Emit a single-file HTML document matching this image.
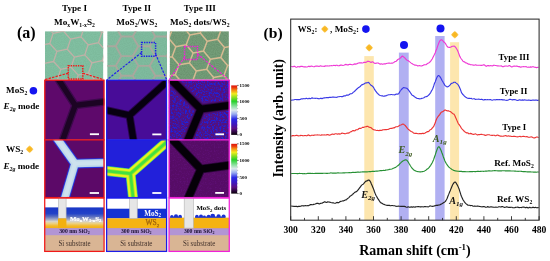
<!DOCTYPE html><html><head><meta charset="utf-8"><title>Raman figure</title>
<style>html,body{margin:0;padding:0;background:#fff}svg{display:block}</style></head><body>
<svg width="550" height="261" viewBox="0 0 550 261">
<rect width="550" height="261" fill="#fff"/>
<defs>
<linearGradient id="cbar" x1="0" y1="0" x2="0" y2="1">
<stop offset="0" stop-color="#dc140c"/><stop offset="0.05" stop-color="#ec3c0c"/><stop offset="0.10" stop-color="#f49014"/><stop offset="0.17" stop-color="#f0ec20"/>
<stop offset="0.24" stop-color="#90e020"/><stop offset="0.32" stop-color="#24d028"/><stop offset="0.42" stop-color="#88e09c"/><stop offset="0.50" stop-color="#dce8ec"/>
<stop offset="0.58" stop-color="#98acf0"/><stop offset="0.68" stop-color="#2828e6"/><stop offset="0.78" stop-color="#3c18c0"/><stop offset="0.87" stop-color="#5c1084"/>
<stop offset="1" stop-color="#080008"/></linearGradient>
<linearGradient id="alloy" x1="0" y1="0" x2="0" y2="1">
<stop offset="0" stop-color="#1a36c6"/><stop offset="0.3" stop-color="#2242c8"/><stop offset="0.45" stop-color="#5c70c0"/><stop offset="0.58" stop-color="#a0a8c8"/>
<stop offset="0.68" stop-color="#d8d4c8"/><stop offset="0.78" stop-color="#ecd080"/><stop offset="0.9" stop-color="#f2b828"/><stop offset="1" stop-color="#f2b018"/></linearGradient>
<radialGradient id="dia"><stop offset="0" stop-color="#f8b418"/><stop offset="0.6" stop-color="#f9bc30"/><stop offset="1" stop-color="#fce4a8"/></radialGradient>
<filter id="speck" x="0" y="0" width="100%" height="100%" color-interpolation-filters="sRGB"><feTurbulence type="fractalNoise" baseFrequency="0.55" numOctaves="2" seed="3" result="n"/>
<feColorMatrix in="n" type="matrix" values="0 0 0 0 0.12  0 0 0 0 0.13  0 0 0 0 0.86  4.0 0 0 0 -1.8"/></filter>
<filter id="speck2" x="0" y="0" width="100%" height="100%" color-interpolation-filters="sRGB"><feTurbulence type="fractalNoise" baseFrequency="0.7" numOctaves="2" seed="8" result="n"/>
<feColorMatrix in="n" type="matrix" values="0 0 0 0 0.45  0 0 0 0 0.1  0 0 0 0 0.6  2.0 0 0 0 -0.95"/></filter>
<filter id="grain" x="0" y="0" width="100%" height="100%" color-interpolation-filters="sRGB"><feTurbulence type="fractalNoise" baseFrequency="0.9" numOctaves="1" seed="5"/>
<feColorMatrix type="matrix" values="0 0 0 0 0.2  0 0 0 0 0.3  0 0 0 0 0.2  0.9 0 0 0 -0.35"/></filter>
<filter id="soft"><feGaussianBlur stdDeviation="0.35"/></filter>

<clipPath id="oc0"><rect x="44.9" y="31.2" width="58.5" height="48.6"/></clipPath>
<clipPath id="oc1"><rect x="107.2" y="31.2" width="59.8" height="48.6"/></clipPath>
<clipPath id="oc2"><rect x="169.6" y="31.2" width="59.3" height="48.6"/></clipPath>
<clipPath id="m1c0"><rect x="44.6" y="80" width="59.6" height="59.8"/></clipPath>
<clipPath id="m2c0"><rect x="44.6" y="139.8" width="59.6" height="57.8"/></clipPath>
<clipPath id="m1c1"><rect x="106.5" y="80" width="60.2" height="59.8"/></clipPath>
<clipPath id="m2c1"><rect x="106.5" y="139.8" width="60.2" height="57.8"/></clipPath>
<clipPath id="m1c2"><rect x="168.9" y="80" width="60.5" height="59.8"/></clipPath>
<clipPath id="m2c2"><rect x="168.9" y="139.8" width="60.5" height="57.8"/></clipPath>
</defs>
<text x="74.50" y="11.00" font-family="Liberation Serif, serif" font-size="9.20" font-weight="bold" font-style="normal" text-anchor="middle" fill="#000" >Type I</text>
<text x="136.80" y="11.00" font-family="Liberation Serif, serif" font-size="9.20" font-weight="bold" font-style="normal" text-anchor="middle" fill="#000" >Type II</text>
<text x="199.80" y="11.00" font-family="Liberation Serif, serif" font-size="9.20" font-weight="bold" font-style="normal" text-anchor="middle" fill="#000" >Type III</text>
<text x="74.50" y="25.30" font-family="Liberation Serif, serif" font-size="9.20" font-weight="bold" font-style="normal" text-anchor="middle" fill="#000" >Mo<tspan font-size="5.70" dy="1.84">x</tspan><tspan dy="-1.84">​</tspan>W<tspan font-size="5.70" dy="1.84">1-x</tspan><tspan dy="-1.84">​</tspan>S<tspan font-size="5.70" dy="1.84">2</tspan><tspan dy="-1.84">​</tspan></text>
<text x="136.80" y="25.30" font-family="Liberation Serif, serif" font-size="9.20" font-weight="bold" font-style="normal" text-anchor="middle" fill="#000" >MoS<tspan font-size="5.70" dy="1.84">2</tspan><tspan dy="-1.84">​</tspan>/WS<tspan font-size="5.70" dy="1.84">2</tspan><tspan dy="-1.84">​</tspan></text>
<text x="199.80" y="25.30" font-family="Liberation Serif, serif" font-size="9.20" font-weight="bold" font-style="normal" text-anchor="middle" fill="#000" >MoS<tspan font-size="5.70" dy="1.84">2</tspan><tspan dy="-1.84">​</tspan> dots/WS<tspan font-size="5.70" dy="1.84">2</tspan><tspan dy="-1.84">​</tspan></text>
<text x="16.90" y="38.10" font-family="Liberation Serif, serif" font-size="16.00" font-weight="bold" font-style="normal" text-anchor="start" fill="#000" >(a)</text>
<text x="263.60" y="38.00" font-family="Liberation Serif, serif" font-size="15.60" font-weight="bold" font-style="normal" text-anchor="start" fill="#000" >(b)</text>
<g clip-path="url(#oc0)">
<rect x="44.9" y="31.2" width="58.5" height="48.6" fill="#80bfa1"/>
<rect x="44.9" y="31.2" width="58.5" height="48.6" filter="url(#grain)" opacity="0.15"/>
<path d="M16.4 116.5L6.0 118.7M6.0 118.7L-1.1 110.8M-1.1 110.8L2.2 100.7M18.6 50.1L8.2 52.4M8.2 52.4L1.1 44.5M1.1 44.5L4.4 34.4M22.5 68.1L12.1 70.4M12.1 70.4L5.0 62.5M5.0 62.5L8.2 52.4M26.3 86.1L15.9 88.4M15.9 88.4L8.8 80.5M8.8 80.5L12.1 70.4M30.1 104.1L19.7 106.4M19.7 106.4L12.6 98.5M12.6 98.5L15.9 88.4M33.9 122.1L23.5 124.3M23.5 124.3L16.4 116.5M16.4 116.5L19.7 106.4M28.5 19.8L18.1 22.0M18.1 22.0L11.0 14.2M11.0 14.2L14.3 4.0M32.3 37.8L21.9 40.0M21.9 40.0L14.8 32.2M14.8 32.2L18.1 22.0M36.1 55.8L25.7 58.0M25.7 58.0L18.6 50.1M18.6 50.1L21.9 40.0M40.0 73.8L29.6 76.0M29.6 76.0L22.5 68.1M22.5 68.1L25.7 58.0M43.8 91.8L33.4 94.0M33.4 94.0L26.3 86.1M26.3 86.1L29.6 76.0M47.6 109.8L37.2 112.0M37.2 112.0L30.1 104.1M30.1 104.1L33.4 94.0M42.2 7.5L31.8 9.7M31.8 9.7L24.7 1.8M24.7 1.8L27.9 -8.3M46.0 25.5L35.6 27.7M35.6 27.7L28.5 19.8M28.5 19.8L31.8 9.7M49.8 43.5L39.4 45.7M39.4 45.7L32.3 37.8M32.3 37.8L35.6 27.7M53.6 61.5L43.2 63.7M43.2 63.7L36.1 55.8M36.1 55.8L39.4 45.7M57.5 79.5L47.1 81.7M47.1 81.7L40.0 73.8M40.0 73.8L43.2 63.7M61.3 97.5L50.9 99.7M50.9 99.7L43.8 91.8M43.8 91.8L47.1 81.7M65.1 115.5L54.7 117.7M54.7 117.7L47.6 109.8M47.6 109.8L50.9 99.7M59.7 13.2L49.3 15.4M49.3 15.4L42.2 7.5M42.2 7.5L45.4 -2.6M63.5 31.2L53.1 33.4M53.1 33.4L46.0 25.5M46.0 25.5L49.3 15.4M67.3 49.2L56.9 51.4M56.9 51.4L49.8 43.5M49.8 43.5L53.1 33.4M71.1 67.2L60.7 69.4M60.7 69.4L53.6 61.5M53.6 61.5L56.9 51.4M75.0 85.2L64.6 87.4M64.6 87.4L57.5 79.5M57.5 79.5L60.7 69.4M78.8 103.2L68.4 105.4M68.4 105.4L61.3 97.5M61.3 97.5L64.6 87.4M82.6 121.2L72.2 123.4M72.2 123.4L65.1 115.5M65.1 115.5L68.4 105.4M77.2 18.9L66.8 21.1M66.8 21.1L59.7 13.2M59.7 13.2L62.9 3.1M81.0 36.9L70.6 39.1M70.6 39.1L63.5 31.2M63.5 31.2L66.8 21.1M84.8 54.9L74.4 57.1M74.4 57.1L67.3 49.2M67.3 49.2L70.6 39.1M88.6 72.9L78.2 75.1M78.2 75.1L71.1 67.2M71.1 67.2L74.4 57.1M92.5 90.9L82.1 93.1M82.1 93.1L75.0 85.2M75.0 85.2L78.2 75.1M96.3 108.9L85.9 111.1M85.9 111.1L78.8 103.2M78.8 103.2L82.1 93.1M90.8 6.6L80.4 8.8M80.4 8.8L73.3 0.9M73.3 0.9L76.6 -9.2M94.7 24.6L84.3 26.8M84.3 26.8L77.2 18.9M77.2 18.9L80.4 8.8M98.5 42.6L88.1 44.8M88.1 44.8L81.0 36.9M81.0 36.9L84.3 26.8M102.3 60.6L91.9 62.8M91.9 62.8L84.8 54.9M84.8 54.9L88.1 44.8M106.1 78.6L95.7 80.8M95.7 80.8L88.6 72.9M88.6 72.9L91.9 62.8M110.0 96.6L99.6 98.8M99.6 98.8L92.5 90.9M92.5 90.9L95.7 80.8M113.8 114.6L103.4 116.8M103.4 116.8L96.3 108.9M96.3 108.9L99.6 98.8M108.3 12.3L97.9 14.5M97.9 14.5L90.8 6.6M90.8 6.6L94.1 -3.5M112.2 30.3L101.8 32.5M101.8 32.5L94.7 24.6M94.7 24.6L97.9 14.5M116.0 48.3L105.6 50.5M105.6 50.5L98.5 42.6M98.5 42.6L101.8 32.5M119.8 66.3L109.4 68.5M109.4 68.5L102.3 60.6M102.3 60.6L105.6 50.5M123.6 84.3L113.2 86.5M113.2 86.5L106.1 78.6M106.1 78.6L109.4 68.5M127.5 102.3L117.1 104.5M117.1 104.5L110.0 96.6M110.0 96.6L113.2 86.5M131.3 120.3L120.9 122.5M120.9 122.5L113.8 114.6M113.8 114.6L117.1 104.5M125.8 18.0L115.4 20.2M115.4 20.2L108.3 12.3M108.3 12.3L111.6 2.2M129.7 36.0L119.3 38.2M119.3 38.2L112.2 30.3M112.2 30.3L115.4 20.2M133.5 54.0L123.1 56.2M123.1 56.2L116.0 48.3M116.0 48.3L119.3 38.2M137.3 72.0L126.9 74.2M126.9 74.2L119.8 66.3M119.8 66.3L123.1 56.2M141.1 90.0L130.7 92.2M130.7 92.2L123.6 84.3M123.6 84.3L126.9 74.2M145.0 107.9L134.6 110.2M134.6 110.2L127.5 102.3M127.5 102.3L130.7 92.2M139.5 5.6L129.1 7.9M129.1 7.9L122.0 -0.0M122.0 -0.0L125.3 -10.1M143.3 23.6L132.9 25.9M132.9 25.9L125.8 18.0M125.8 18.0L129.1 7.9M147.2 41.6L136.8 43.9M136.8 43.9L129.7 36.0M129.7 36.0L132.9 25.9" stroke="#cdaea8" stroke-width="1.3" fill="none" stroke-linecap="round" stroke-opacity="0.85" filter="url(#soft)"/>
</g>
<g clip-path="url(#oc1)">
<rect x="107.2" y="31.2" width="59.8" height="48.6" fill="#7ebb9e"/>
<rect x="107.2" y="31.2" width="59.8" height="48.6" filter="url(#grain)" opacity="0.15"/>
<path d="M87.4 114.9L81.7 124.7M81.7 124.7L70.4 124.7M70.4 124.7L64.8 114.9M87.4 95.3L81.7 105.1M81.7 105.1L70.4 105.1M70.4 105.1L64.8 95.3M104.4 105.1L98.7 114.9M98.7 114.9L87.4 114.9M87.4 114.9L81.7 105.1M121.3 114.9L115.7 124.7M115.7 124.7L104.4 124.7M104.4 124.7L98.7 114.9M87.4 75.7L81.7 85.5M81.7 85.5L70.4 85.5M70.4 85.5L64.8 75.7M104.4 85.5L98.7 95.3M98.7 95.3L87.4 95.3M87.4 95.3L81.7 85.5M121.3 95.3L115.7 105.1M115.7 105.1L104.4 105.1M104.4 105.1L98.7 95.3M138.3 105.1L132.7 114.9M132.7 114.9L121.3 114.9M121.3 114.9L115.7 105.1M155.3 114.9L149.6 124.7M149.6 124.7L138.3 124.7M138.3 124.7L132.7 114.9M87.4 56.1L81.7 65.9M81.7 65.9L70.4 65.9M70.4 65.9L64.8 56.1M104.4 65.9L98.7 75.7M98.7 75.7L87.4 75.7M87.4 75.7L81.7 65.9M121.3 75.7L115.7 85.5M115.7 85.5L104.4 85.5M104.4 85.5L98.7 75.7M138.3 85.5L132.7 95.3M132.7 95.3L121.3 95.3M121.3 95.3L115.7 85.5M155.3 95.3L149.6 105.1M149.6 105.1L138.3 105.1M138.3 105.1L132.7 95.3M172.3 105.1L166.6 114.9M166.6 114.9L155.3 114.9M155.3 114.9L149.6 105.1M189.2 114.9L183.6 124.7M183.6 124.7L172.3 124.7M172.3 124.7L166.6 114.9M87.4 36.5L81.7 46.3M81.7 46.3L70.4 46.3M70.4 46.3L64.8 36.5M104.4 46.3L98.7 56.1M98.7 56.1L87.4 56.1M87.4 56.1L81.7 46.3M121.3 56.1L115.7 65.9M115.7 65.9L104.4 65.9M104.4 65.9L98.7 56.1M138.3 65.9L132.7 75.7M132.7 75.7L121.3 75.7M121.3 75.7L115.7 65.9M155.3 75.7L149.6 85.5M149.6 85.5L138.3 85.5M138.3 85.5L132.7 75.7M172.3 85.5L166.6 95.3M166.6 95.3L155.3 95.3M155.3 95.3L149.6 85.5M189.2 95.3L183.6 105.1M183.6 105.1L172.3 105.1M172.3 105.1L166.6 95.3M206.2 105.1L200.6 114.9M200.6 114.9L189.2 114.9M189.2 114.9L183.6 105.1M87.4 16.9L81.7 26.7M81.7 26.7L70.4 26.7M70.4 26.7L64.8 16.9M104.4 26.7L98.7 36.5M98.7 36.5L87.4 36.5M87.4 36.5L81.7 26.7M121.3 36.5L115.7 46.3M115.7 46.3L104.4 46.3M104.4 46.3L98.7 36.5M138.3 46.3L132.7 56.1M132.7 56.1L121.3 56.1M121.3 56.1L115.7 46.3M155.3 56.1L149.6 65.9M149.6 65.9L138.3 65.9M138.3 65.9L132.7 56.1M172.3 65.9L166.6 75.7M166.6 75.7L155.3 75.7M155.3 75.7L149.6 65.9M189.2 75.7L183.6 85.5M183.6 85.5L172.3 85.5M172.3 85.5L166.6 75.7M206.2 85.5L200.6 95.3M200.6 95.3L189.2 95.3M189.2 95.3L183.6 85.5M87.4 -2.7L81.7 7.1M81.7 7.1L70.4 7.1M70.4 7.1L64.8 -2.7M104.4 7.1L98.7 16.9M98.7 16.9L87.4 16.9M87.4 16.9L81.7 7.1M121.3 16.9L115.7 26.7M115.7 26.7L104.4 26.7M104.4 26.7L98.7 16.9M138.3 26.7L132.7 36.5M132.7 36.5L121.3 36.5M121.3 36.5L115.7 26.7M155.3 36.5L149.6 46.3M149.6 46.3L138.3 46.3M138.3 46.3L132.7 36.5M172.3 46.3L166.6 56.1M166.6 56.1L155.3 56.1M155.3 56.1L149.6 46.3M189.2 56.1L183.6 65.9M183.6 65.9L172.3 65.9M172.3 65.9L166.6 56.1M206.2 65.9L200.6 75.7M200.6 75.7L189.2 75.7M189.2 75.7L183.6 65.9M121.3 -2.7L115.7 7.1M115.7 7.1L104.4 7.1M104.4 7.1L98.7 -2.7M138.3 7.1L132.7 16.9M132.7 16.9L121.3 16.9M121.3 16.9L115.7 7.1M155.3 16.9L149.6 26.7M149.6 26.7L138.3 26.7M138.3 26.7L132.7 16.9M172.3 26.7L166.6 36.5M166.6 36.5L155.3 36.5M155.3 36.5L149.6 26.7M189.2 36.5L183.6 46.3M183.6 46.3L172.3 46.3M172.3 46.3L166.6 36.5M206.2 46.3L200.6 56.1M200.6 56.1L189.2 56.1M189.2 56.1L183.6 46.3M155.3 -2.7L149.6 7.1M149.6 7.1L138.3 7.1M138.3 7.1L132.7 -2.7M172.3 7.1L166.6 16.9M166.6 16.9L155.3 16.9M155.3 16.9L149.6 7.1M189.2 16.9L183.6 26.7M183.6 26.7L172.3 26.7M172.3 26.7L166.6 16.9M206.2 26.7L200.6 36.5M200.6 36.5L189.2 36.5M189.2 36.5L183.6 26.7M189.2 -2.7L183.6 7.1M183.6 7.1L172.3 7.1M172.3 7.1L166.6 -2.7M206.2 7.1L200.6 16.9M200.6 16.9L189.2 16.9M189.2 16.9L183.6 7.1" stroke="#b0a49e" stroke-width="1.9" fill="none" stroke-linecap="round" stroke-opacity="0.85" filter="url(#soft)"/>
</g>
<g clip-path="url(#oc2)">
<rect x="169.6" y="31.2" width="59.3" height="48.6" fill="#739d78"/>
<rect x="169.6" y="31.2" width="59.3" height="48.6" filter="url(#grain)" opacity="0.42"/>
<path d="M140.8 62.2L130.3 64.1M130.3 64.1L123.5 55.9M123.5 55.9L127.1 45.9M144.0 80.3L133.5 82.2M133.5 82.2L126.7 74.0M126.7 74.0L130.3 64.1M147.1 98.4L136.7 100.3M136.7 100.3L129.9 92.2M129.9 92.2L133.5 82.2M150.3 116.6L139.9 118.4M139.9 118.4L133.1 110.3M133.1 110.3L136.7 100.3M148.5 14.1L138.0 16.0M138.0 16.0L131.2 7.8M131.2 7.8L134.8 -2.1M151.7 32.3L141.2 34.1M141.2 34.1L134.4 26.0M134.4 26.0L138.0 16.0M154.9 50.4L144.4 52.2M144.4 52.2L137.6 44.1M137.6 44.1L141.2 34.1M158.0 68.5L147.6 70.3M147.6 70.3L140.8 62.2M140.8 62.2L144.4 52.2M161.2 86.6L150.8 88.5M150.8 88.5L144.0 80.3M144.0 80.3L147.6 70.3M164.4 104.7L154.0 106.6M154.0 106.6L147.1 98.4M147.1 98.4L150.8 88.5M167.6 122.9L157.2 124.7M157.2 124.7L150.3 116.6M150.3 116.6L154.0 106.6M165.8 20.4L155.3 22.3M155.3 22.3L148.5 14.1M148.5 14.1L152.1 4.2M168.9 38.6L158.5 40.4M158.5 40.4L151.7 32.3M151.7 32.3L155.3 22.3M172.1 56.7L161.7 58.5M161.7 58.5L154.9 50.4M154.9 50.4L158.5 40.4M175.3 74.8L164.9 76.6M164.9 76.6L158.0 68.5M158.0 68.5L161.7 58.5M178.5 92.9L168.1 94.8M168.1 94.8L161.2 86.6M161.2 86.6L164.9 76.6M181.7 111.0L171.3 112.9M171.3 112.9L164.4 104.7M164.4 104.7L168.1 94.8M179.8 8.6L169.4 10.4M169.4 10.4L162.6 2.3M162.6 2.3L166.2 -7.7M183.0 26.7L172.6 28.6M172.6 28.6L165.8 20.4M165.8 20.4L169.4 10.4M186.2 44.8L175.8 46.7M175.8 46.7L168.9 38.6M168.9 38.6L172.6 28.6M189.4 63.0L179.0 64.8M179.0 64.8L172.1 56.7M172.1 56.7L175.8 46.7M192.6 81.1L182.2 82.9M182.2 82.9L175.3 74.8M175.3 74.8L179.0 64.8M195.8 99.2L185.4 101.1M185.4 101.1L178.5 92.9M178.5 92.9L182.2 82.9M199.0 117.3L188.6 119.2M188.6 119.2L181.7 111.0M181.7 111.0L185.4 101.1M197.1 14.9L186.7 16.7M186.7 16.7L179.8 8.6M179.8 8.6L183.5 -1.4M200.3 33.0L189.9 34.9M189.9 34.9L183.0 26.7M183.0 26.7L186.7 16.7M203.5 51.1L193.1 53.0M193.1 53.0L186.2 44.8M186.2 44.8L189.9 34.9M206.7 69.3L196.3 71.1M196.3 71.1L189.4 63.0M189.4 63.0L193.1 53.0M209.9 87.4L199.5 89.2M199.5 89.2L192.6 81.1M192.6 81.1L196.3 71.1M213.1 105.5L202.7 107.3M202.7 107.3L195.8 99.2M195.8 99.2L199.5 89.2M216.3 123.6L205.8 125.5M205.8 125.5L199.0 117.3M199.0 117.3L202.7 107.3M211.2 3.1L200.8 4.9M200.8 4.9L193.9 -3.2M193.9 -3.2L197.6 -13.2M214.4 21.2L204.0 23.0M204.0 23.0L197.1 14.9M197.1 14.9L200.8 4.9M217.6 39.3L207.2 41.2M207.2 41.2L200.3 33.0M200.3 33.0L204.0 23.0M220.8 57.4L210.4 59.3M210.4 59.3L203.5 51.1M203.5 51.1L207.2 41.2M224.0 75.6L213.6 77.4M213.6 77.4L206.7 69.3M206.7 69.3L210.4 59.3M227.2 93.7L216.7 95.5M216.7 95.5L209.9 87.4M209.9 87.4L213.6 77.4M230.4 111.8L219.9 113.6M219.9 113.6L213.1 105.5M213.1 105.5L216.7 95.5M228.5 9.4L218.1 11.2M218.1 11.2L211.2 3.1M211.2 3.1L214.9 -6.9M231.7 27.5L221.3 29.3M221.3 29.3L214.4 21.2M214.4 21.2L218.1 11.2M234.9 45.6L224.5 47.4M224.5 47.4L217.6 39.3M217.6 39.3L221.3 29.3M238.1 63.7L227.6 65.6M227.6 65.6L220.8 57.4M220.8 57.4L224.5 47.4M241.3 81.8L230.8 83.7M230.8 83.7L224.0 75.6M224.0 75.6L227.6 65.6M244.5 100.0L234.0 101.8M234.0 101.8L227.2 93.7M227.2 93.7L230.8 83.7M247.7 118.1L237.2 119.9M237.2 119.9L230.4 111.8M230.4 111.8L234.0 101.8M245.8 15.7L235.4 17.5M235.4 17.5L228.5 9.4M228.5 9.4L232.2 -0.6M249.0 33.8L238.5 35.6M238.5 35.6L231.7 27.5M231.7 27.5L235.4 17.5M252.2 51.9L241.7 53.7M241.7 53.7L234.9 45.6M234.9 45.6L238.5 35.6M255.4 70.0L244.9 71.9M244.9 71.9L238.1 63.7M238.1 63.7L241.7 53.7M258.6 88.1L248.1 90.0M248.1 90.0L241.3 81.8M241.3 81.8L244.9 71.9M261.8 106.3L251.3 108.1M251.3 108.1L244.5 100.0M244.5 100.0L248.1 90.0M265.0 124.4L254.5 126.2M254.5 126.2L247.7 118.1M247.7 118.1L251.3 108.1M259.9 3.8L249.4 5.7M249.4 5.7L242.6 -2.5M242.6 -2.5L246.3 -12.4M263.1 21.9L252.6 23.8M252.6 23.8L245.8 15.7M245.8 15.7L249.4 5.7M266.3 40.1L255.8 41.9M255.8 41.9L249.0 33.8M249.0 33.8L252.6 23.8M269.5 58.2L259.0 60.0M259.0 60.0L252.2 51.9M252.2 51.9L255.8 41.9" stroke="#e9c096" stroke-width="1.5" fill="none" stroke-linecap="round" stroke-opacity="0.85" filter="url(#soft)"/>
</g>
<rect x="68.3" y="65.8" width="14.5" height="13.2" fill="none" stroke="#f01c1c" stroke-width="1.5" stroke-dasharray="1.4 1.0"/>
<line x1="68.3" y1="73.2" x2="44.8" y2="79.6" stroke="#f01c1c" stroke-width="1.2" stroke-dasharray="2.4 1.2"/>
<line x1="82.8" y1="73.2" x2="103.6" y2="79.6" stroke="#f01c1c" stroke-width="1.2" stroke-dasharray="2.4 1.2"/>
<rect x="141.6" y="42.5" width="14.0" height="13.8" fill="none" stroke="#2020e8" stroke-width="1.5" stroke-dasharray="1.4 1.0"/>
<line x1="141.6" y1="52.5" x2="107.0" y2="79.8" stroke="#2020e8" stroke-width="1.2" stroke-dasharray="2.4 1.2"/>
<line x1="155.6" y1="54.0" x2="166.6" y2="79.6" stroke="#2020e8" stroke-width="1.2" stroke-dasharray="2.4 1.2"/>
<rect x="184.6" y="46.6" width="12.9" height="12.9" fill="none" stroke="#f020d8" stroke-width="1.5" stroke-dasharray="1.4 1.0"/>
<line x1="184.6" y1="57.0" x2="169.4" y2="79.6" stroke="#f020d8" stroke-width="1.2" stroke-dasharray="2.4 1.2"/>
<line x1="197.5" y1="54.0" x2="228.6" y2="79.6" stroke="#f020d8" stroke-width="1.2" stroke-dasharray="2.4 1.2"/>
<g clip-path="url(#m1c0)">
<rect x="40" y="78" width="195" height="122" fill="#5e096b"/>

<path d="M75.2 105.4L52.9 70.8M75.2 105.4L115.8 100.3M75.2 105.4L59.5 148.7" stroke="#3c0a4c" stroke-width="8.0" fill="none" stroke-linecap="round" stroke-linejoin="round"/>
<path d="M75.2 105.4L52.9 70.8M75.2 105.4L115.8 100.3M75.2 105.4L59.5 148.7" stroke="#1c0424" stroke-width="5.4" fill="none" stroke-linecap="round" stroke-linejoin="round"/>
</g>
<g clip-path="url(#m1c1)">
<rect x="40" y="78" width="195" height="122" fill="#480c98"/>

<path d="M129.5 115.3L174.0 75.4M129.5 115.3L95.7 107.8M129.5 115.3L135.1 150.6" stroke="#2a0650" stroke-width="8.0" fill="none" stroke-linecap="round" stroke-linejoin="round"/>
<path d="M129.5 115.3L174.0 75.4M129.5 115.3L95.7 107.8M129.5 115.3L135.1 150.6" stroke="#070010" stroke-width="6.2" fill="none" stroke-linecap="round" stroke-linejoin="round"/>
</g>
<g clip-path="url(#m1c2)">
<rect x="40" y="78" width="195" height="122" fill="#54107e"/>
<rect x="168" y="79" width="62" height="61" filter="url(#speck)"/>
<path d="M200.8 109.1L165.3 73.6M200.8 109.1L240.9 103.8M200.8 109.1L183.9 149.6" stroke="#4c0e70" stroke-width="11.0" fill="none" stroke-linecap="round" stroke-linejoin="round"/>
<path d="M200.8 109.1L165.3 73.6M200.8 109.1L240.9 103.8M200.8 109.1L183.9 149.6" stroke="#2a0640" stroke-width="8.6" fill="none" stroke-linecap="round" stroke-linejoin="round"/>
<path d="M200.8 109.1L165.3 73.6M200.8 109.1L240.9 103.8M200.8 109.1L183.9 149.6" stroke="#050008" stroke-width="7.0" fill="none" stroke-linecap="round" stroke-linejoin="round"/>
</g>
<g clip-path="url(#m2c0)">
<rect x="40" y="78" width="195" height="122" fill="#5c0968"/>

<path d="M75.0 163.6L51.6 130.9M75.0 163.6L116.3 162.5M75.0 163.6L61.8 208.5" stroke="#2430dc" stroke-width="9.8" fill="none" stroke-linecap="round" stroke-linejoin="round"/>
<path d="M75.0 163.6L51.6 130.9M75.0 163.6L116.3 162.5M75.0 163.6L61.8 208.5" stroke="#6c8ce4" stroke-width="8.0" fill="none" stroke-linecap="round" stroke-linejoin="round"/>
<path d="M75.0 163.6L51.6 130.9M75.0 163.6L116.3 162.5M75.0 163.6L61.8 208.5" stroke="#c0d9ea" stroke-width="7.2" fill="none" stroke-linecap="round" stroke-linejoin="round"/>
<path d="M75.0 163.6L51.6 130.9M75.0 163.6L116.3 162.5M75.0 163.6L61.8 208.5" stroke="#cde2ee" stroke-width="4.0" fill="none" stroke-linecap="round" stroke-linejoin="round"/>
</g>
<g clip-path="url(#m2c1)">
<rect x="40" y="78" width="195" height="122" fill="#2220da"/>

<path d="M130.5 173.6L174.1 135.5M130.5 173.6L95.5 169.7M130.5 173.6L134.3 209.3" stroke="#30c890" stroke-width="10.0" fill="none" stroke-linecap="round" stroke-linejoin="round"/>
<path d="M130.5 173.6L174.1 135.5M130.5 173.6L95.5 169.7M130.5 173.6L134.3 209.3" stroke="#c8f024" stroke-width="8.8" fill="none" stroke-linecap="round" stroke-linejoin="round"/>
<path d="M130.5 173.6L174.1 135.5M130.5 173.6L95.5 169.7M130.5 173.6L134.3 209.3" stroke="#f0f020" stroke-width="7.6" fill="none" stroke-linecap="round" stroke-linejoin="round"/>
<path d="M130.5 173.6L174.1 135.5M130.5 173.6L95.5 169.7M130.5 173.6L134.3 209.3" stroke="#98ec28" stroke-width="4.4" fill="none" stroke-linecap="round" stroke-linejoin="round"/>
<path d="M130.5 173.6L174.1 135.5M130.5 173.6L95.5 169.7M130.5 173.6L134.3 209.3" stroke="#44e040" stroke-width="2.6" fill="none" stroke-linecap="round" stroke-linejoin="round"/>
</g>
<g clip-path="url(#m2c2)">
<rect x="40" y="78" width="195" height="122" fill="#560c66"/>
<rect x="168" y="139" width="62" height="59" filter="url(#speck2)" opacity="0.5"/>
<path d="M200.8 169.1L165.5 132.2M200.8 169.1L240.9 163.8M200.8 169.1L183.7 208.3" stroke="#2a0638" stroke-width="9.0" fill="none" stroke-linecap="round" stroke-linejoin="round"/>
<path d="M200.8 169.1L165.5 132.2M200.8 169.1L240.9 163.8M200.8 169.1L183.7 208.3" stroke="#050008" stroke-width="7.2" fill="none" stroke-linecap="round" stroke-linejoin="round"/>
</g>
<rect x="89.9" y="133.3" width="9.1" height="1.8" fill="#fff"/>
<rect x="152.3" y="133.5" width="9.1" height="1.8" fill="#fff"/>
<rect x="215.4" y="133.4" width="8.6" height="1.8" fill="#fff"/>
<rect x="89.7" y="192.1" width="9.3" height="1.8" fill="#fff"/>
<rect x="152.3" y="192.1" width="9.1" height="1.8" fill="#fff"/>
<rect x="215.2" y="192.0" width="8.8" height="1.8" fill="#fff"/>
<rect x="44.80" y="80.2" width="59.20" height="117.4" fill="none" stroke="#f01818" stroke-width="1.3"/>
<line x1="44.10" y1="139.8" x2="104.70" y2="139.8" stroke="#f01818" stroke-width="1.2"/>
<rect x="106.70" y="80.2" width="59.80" height="117.4" fill="none" stroke="#1c1ce8" stroke-width="1.3"/>
<line x1="106.00" y1="139.8" x2="167.20" y2="139.8" stroke="#1c1ce8" stroke-width="1.2"/>
<rect x="169.10" y="80.2" width="60.10" height="117.4" fill="none" stroke="#f020d8" stroke-width="1.3"/>
<line x1="168.40" y1="139.8" x2="229.90" y2="139.8" stroke="#f020d8" stroke-width="1.2"/>
<rect x="44.70" y="235" width="59.40" height="16.60" fill="#d9b594"/>
<rect x="44.70" y="228" width="59.40" height="7.2" fill="#b295d4"/>
<rect x="44.70" y="207.4" width="59.40" height="20.7" fill="url(#alloy)"/>
<rect x="58.3" y="198" width="7.8" height="20.6" fill="#e6e6e6" stroke="#b4b4b4" stroke-width="0.6"/>
<rect x="58.0" y="218.4" width="8.4" height="9.7" fill="#f2b010"/>
<rect x="44.72" y="198.00" width="59.36" height="53.40" fill="none" stroke="#f01818" stroke-width="1.25"/>
<rect x="106.60" y="235" width="60.00" height="16.60" fill="#d9b594"/>
<rect x="106.60" y="228" width="60.00" height="7.2" fill="#b295d4"/>
<rect x="106.60" y="208.7" width="60.00" height="9.7" fill="#1432d2"/>
<rect x="106.60" y="218.3" width="60.00" height="9.8" fill="#f5b312"/>
<rect x="129.6" y="198" width="7.6" height="20.4" fill="#e6e6e6" stroke="#b4b4b4" stroke-width="0.6"/>
<rect x="106.62" y="198.00" width="59.96" height="53.40" fill="none" stroke="#1c1ce8" stroke-width="1.25"/>
<rect x="169.00" y="235" width="60.30" height="16.60" fill="#d9b594"/>
<rect x="169.00" y="228" width="60.30" height="7.2" fill="#b295d4"/>
<rect x="169.00" y="217.8" width="60.30" height="10.3" fill="#f5b312"/>
<rect x="170.2" y="216.6" width="11.6" height="1.6" fill="#1a30d4"/><rect x="195.2" y="216.6" width="30.2" height="1.6" fill="#1a30d4"/>
<circle cx="171.9" cy="216.72" r="1.70" fill="#1a30d4"/>
<circle cx="176.0" cy="216.43" r="2.10" fill="#1a30d4"/>
<circle cx="180.1" cy="216.65" r="1.80" fill="#1a30d4"/>
<circle cx="196.9" cy="216.65" r="1.80" fill="#1a30d4"/>
<circle cx="201.0" cy="216.50" r="2.00" fill="#1a30d4"/>
<circle cx="204.4" cy="216.95" r="1.40" fill="#1a30d4"/>
<circle cx="208.6" cy="216.57" r="1.90" fill="#1a30d4"/>
<circle cx="212.7" cy="216.20" r="2.40" fill="#1a30d4"/>
<circle cx="218.6" cy="216.43" r="2.10" fill="#1a30d4"/>
<circle cx="223.6" cy="216.50" r="2.00" fill="#1a30d4"/>
<rect x="169" y="217.8" width="60" height="10.3" fill="#f5b312"/>
<rect x="184.2" y="198" width="9.2" height="30.1" fill="#e6e6e6" stroke="#b4b4b4" stroke-width="0.6"/>
<rect x="169.02" y="198.00" width="60.26" height="53.40" fill="none" stroke="#f020d8" stroke-width="1.25"/>
<text x="85.60" y="220.60" font-family="Liberation Serif, serif" font-size="6.70" font-weight="bold" font-style="normal" text-anchor="middle" fill="#fff" textLength="31.4" lengthAdjust="spacingAndGlyphs" stroke="#fff" stroke-width="0.2">Mo<tspan font-size="4.56" dy="1.34">x</tspan><tspan dy="-1.34">​</tspan>W<tspan font-size="4.56" dy="1.34">1-x</tspan><tspan dy="-1.34">​</tspan>S<tspan font-size="4.56" dy="1.34">2</tspan><tspan dy="-1.34">​</tspan></text>
<text x="152.60" y="215.50" font-family="Liberation Serif, serif" font-size="7.20" font-weight="bold" font-style="normal" text-anchor="middle" fill="#fff" textLength="16.8" lengthAdjust="spacingAndGlyphs">MoS<tspan font-size="5.04" dy="1.44">2</tspan><tspan dy="-1.44">​</tspan></text>
<text x="152.30" y="225.20" font-family="Liberation Serif, serif" font-size="7.50" font-weight="normal" font-style="normal" text-anchor="middle" fill="#a0640c" stroke="#a0640c" stroke-width="0.25">WS<tspan font-size="4.65" dy="1.50">2</tspan><tspan dy="-1.50">​</tspan></text>
<text x="211.30" y="210.10" font-family="Liberation Serif, serif" font-size="7.05" font-weight="bold" font-style="normal" text-anchor="middle" fill="#000" textLength="29.7" lengthAdjust="spacingAndGlyphs">MoS<tspan font-size="4.93" dy="1.41">2</tspan><tspan dy="-1.41">​</tspan> dots</text>
<text x="74.50" y="233.30" font-family="Liberation Serif, serif" font-size="5.60" font-weight="bold" font-style="normal" text-anchor="middle" fill="#1a1030" textLength="30.6" lengthAdjust="spacingAndGlyphs">300 nm SiO<tspan font-size="3.92" dy="1.12">2</tspan><tspan dy="-1.12">​</tspan></text>
<text x="74.50" y="245.60" font-family="Liberation Serif, serif" font-size="7.20" font-weight="normal" font-style="normal" text-anchor="middle" fill="#40302a" textLength="32.2" lengthAdjust="spacingAndGlyphs">Si substrate</text>
<text x="136.30" y="233.30" font-family="Liberation Serif, serif" font-size="5.60" font-weight="bold" font-style="normal" text-anchor="middle" fill="#1a1030" textLength="30.6" lengthAdjust="spacingAndGlyphs">300 nm SiO<tspan font-size="3.92" dy="1.12">2</tspan><tspan dy="-1.12">​</tspan></text>
<text x="136.30" y="245.60" font-family="Liberation Serif, serif" font-size="7.20" font-weight="normal" font-style="normal" text-anchor="middle" fill="#40302a" textLength="32.2" lengthAdjust="spacingAndGlyphs">Si substrate</text>
<text x="199.20" y="233.30" font-family="Liberation Serif, serif" font-size="5.60" font-weight="bold" font-style="normal" text-anchor="middle" fill="#1a1030" textLength="30.6" lengthAdjust="spacingAndGlyphs">300 nm SiO<tspan font-size="3.92" dy="1.12">2</tspan><tspan dy="-1.12">​</tspan></text>
<text x="199.20" y="245.60" font-family="Liberation Serif, serif" font-size="7.20" font-weight="normal" font-style="normal" text-anchor="middle" fill="#40302a" textLength="32.2" lengthAdjust="spacingAndGlyphs">Si substrate</text>
<rect x="231.2" y="85.4" width="6.0" height="49.5" fill="url(#cbar)"/>
<line x1="237.2" y1="85.40" x2="238.1" y2="85.40" stroke="#444" stroke-width="0.35"/>
<line x1="237.2" y1="88.70" x2="238.1" y2="88.70" stroke="#444" stroke-width="0.35"/>
<line x1="237.2" y1="92.00" x2="238.1" y2="92.00" stroke="#444" stroke-width="0.35"/>
<line x1="237.2" y1="95.30" x2="238.1" y2="95.30" stroke="#444" stroke-width="0.35"/>
<line x1="237.2" y1="98.60" x2="238.1" y2="98.60" stroke="#444" stroke-width="0.35"/>
<line x1="237.2" y1="101.90" x2="238.1" y2="101.90" stroke="#444" stroke-width="0.35"/>
<line x1="237.2" y1="105.20" x2="238.1" y2="105.20" stroke="#444" stroke-width="0.35"/>
<line x1="237.2" y1="108.50" x2="238.1" y2="108.50" stroke="#444" stroke-width="0.35"/>
<line x1="237.2" y1="111.80" x2="238.1" y2="111.80" stroke="#444" stroke-width="0.35"/>
<line x1="237.2" y1="115.10" x2="238.1" y2="115.10" stroke="#444" stroke-width="0.35"/>
<line x1="237.2" y1="118.40" x2="238.1" y2="118.40" stroke="#444" stroke-width="0.35"/>
<line x1="237.2" y1="121.70" x2="238.1" y2="121.70" stroke="#444" stroke-width="0.35"/>
<line x1="237.2" y1="125.00" x2="238.1" y2="125.00" stroke="#444" stroke-width="0.35"/>
<line x1="237.2" y1="128.30" x2="238.1" y2="128.30" stroke="#444" stroke-width="0.35"/>
<line x1="237.2" y1="131.60" x2="238.1" y2="131.60" stroke="#444" stroke-width="0.35"/>
<line x1="237.2" y1="134.90" x2="238.1" y2="134.90" stroke="#444" stroke-width="0.35"/>
<line x1="237.1" y1="85.40" x2="238.8" y2="85.40" stroke="#222" stroke-width="0.5"/>
<text x="239.60" y="86.90" font-family="Liberation Serif, serif" font-size="4.90" font-weight="bold" font-style="normal" text-anchor="start" fill="#000" >1500</text>
<line x1="237.1" y1="101.90" x2="238.8" y2="101.90" stroke="#222" stroke-width="0.5"/>
<text x="239.60" y="103.40" font-family="Liberation Serif, serif" font-size="4.90" font-weight="bold" font-style="normal" text-anchor="start" fill="#000" >1000</text>
<line x1="237.1" y1="118.40" x2="238.8" y2="118.40" stroke="#222" stroke-width="0.5"/>
<text x="239.60" y="119.90" font-family="Liberation Serif, serif" font-size="4.90" font-weight="bold" font-style="normal" text-anchor="start" fill="#000" >500</text>
<line x1="237.1" y1="134.90" x2="238.8" y2="134.90" stroke="#222" stroke-width="0.5"/>
<text x="239.60" y="136.40" font-family="Liberation Serif, serif" font-size="4.90" font-weight="bold" font-style="normal" text-anchor="start" fill="#000" >0</text>
<rect x="231.2" y="143.8" width="6.0" height="49.8" fill="url(#cbar)"/>
<line x1="237.2" y1="143.80" x2="238.1" y2="143.80" stroke="#444" stroke-width="0.35"/>
<line x1="237.2" y1="147.12" x2="238.1" y2="147.12" stroke="#444" stroke-width="0.35"/>
<line x1="237.2" y1="150.44" x2="238.1" y2="150.44" stroke="#444" stroke-width="0.35"/>
<line x1="237.2" y1="153.76" x2="238.1" y2="153.76" stroke="#444" stroke-width="0.35"/>
<line x1="237.2" y1="157.08" x2="238.1" y2="157.08" stroke="#444" stroke-width="0.35"/>
<line x1="237.2" y1="160.40" x2="238.1" y2="160.40" stroke="#444" stroke-width="0.35"/>
<line x1="237.2" y1="163.72" x2="238.1" y2="163.72" stroke="#444" stroke-width="0.35"/>
<line x1="237.2" y1="167.04" x2="238.1" y2="167.04" stroke="#444" stroke-width="0.35"/>
<line x1="237.2" y1="170.36" x2="238.1" y2="170.36" stroke="#444" stroke-width="0.35"/>
<line x1="237.2" y1="173.68" x2="238.1" y2="173.68" stroke="#444" stroke-width="0.35"/>
<line x1="237.2" y1="177.00" x2="238.1" y2="177.00" stroke="#444" stroke-width="0.35"/>
<line x1="237.2" y1="180.32" x2="238.1" y2="180.32" stroke="#444" stroke-width="0.35"/>
<line x1="237.2" y1="183.64" x2="238.1" y2="183.64" stroke="#444" stroke-width="0.35"/>
<line x1="237.2" y1="186.96" x2="238.1" y2="186.96" stroke="#444" stroke-width="0.35"/>
<line x1="237.2" y1="190.28" x2="238.1" y2="190.28" stroke="#444" stroke-width="0.35"/>
<line x1="237.2" y1="193.60" x2="238.1" y2="193.60" stroke="#444" stroke-width="0.35"/>
<line x1="237.1" y1="143.80" x2="238.8" y2="143.80" stroke="#222" stroke-width="0.5"/>
<text x="239.60" y="145.30" font-family="Liberation Serif, serif" font-size="4.90" font-weight="bold" font-style="normal" text-anchor="start" fill="#000" >1500</text>
<line x1="237.1" y1="160.40" x2="238.8" y2="160.40" stroke="#222" stroke-width="0.5"/>
<text x="239.60" y="161.90" font-family="Liberation Serif, serif" font-size="4.90" font-weight="bold" font-style="normal" text-anchor="start" fill="#000" >1000</text>
<line x1="237.1" y1="177.00" x2="238.8" y2="177.00" stroke="#222" stroke-width="0.5"/>
<text x="239.60" y="178.50" font-family="Liberation Serif, serif" font-size="4.90" font-weight="bold" font-style="normal" text-anchor="start" fill="#000" >500</text>
<line x1="237.1" y1="193.60" x2="238.8" y2="193.60" stroke="#222" stroke-width="0.5"/>
<text x="239.60" y="195.10" font-family="Liberation Serif, serif" font-size="4.90" font-weight="bold" font-style="normal" text-anchor="start" fill="#000" >0</text>
<text x="6.00" y="93.40" font-family="Liberation Serif, serif" font-size="9.20" font-weight="bold" font-style="normal" text-anchor="start" fill="#000" >MoS<tspan font-size="5.70" dy="1.84">2</tspan><tspan dy="-1.84">​</tspan></text>
<circle cx="33.4" cy="90.7" r="3.8" fill="#1414f0"/>
<text x="3.60" y="109.40" font-family="Liberation Serif, serif" font-size="9.20" font-weight="bold" font-style="normal" text-anchor="start" fill="#000" ><tspan font-style="italic">E</tspan><tspan font-style="italic" font-size="5.9" dy="1.9">2g</tspan><tspan dy="-1.9"> mode</tspan></text>
<text x="6.00" y="151.80" font-family="Liberation Serif, serif" font-size="9.20" font-weight="bold" font-style="normal" text-anchor="start" fill="#000" >WS<tspan font-size="5.70" dy="1.84">2</tspan><tspan dy="-1.84">​</tspan></text>
<path d="M29.6 145.2L33.6 149.2L29.6 153.2L25.6 149.2Z" fill="url(#dia)"/>
<text x="3.40" y="168.70" font-family="Liberation Serif, serif" font-size="9.20" font-weight="bold" font-style="normal" text-anchor="start" fill="#000" ><tspan font-style="italic">E</tspan><tspan font-style="italic" font-size="5.9" dy="1.9">2g</tspan><tspan dy="-1.9"> mode</tspan></text>
<rect x="364.3" y="56.1" width="9.5" height="164.1" fill="#fde6ae"/>
<rect x="398.9" y="52.6" width="9.8" height="167.6" fill="#b1b0f2"/>
<rect x="435.2" y="36.0" width="9.4" height="184.2" fill="#b1b0f2"/>
<rect x="450.1" y="42.2" width="9.0" height="178.0" fill="#fde6ae"/>
<path d="M369.2 43.8L373.2 47.8L369.2 51.8L365.2 47.8Z" fill="url(#dia)"/>
<path d="M454.8 30.7L458.8 34.7L454.8 38.7L450.8 34.7Z" fill="url(#dia)"/>
<circle cx="404" cy="45.1" r="4" fill="#1414f0"/><circle cx="440.5" cy="28.4" r="4" fill="#1414f0"/>
<path d="M291.2 206.0L291.9 206.1L292.7 206.2L293.4 206.3L294.2 206.3L294.9 206.5L295.7 206.4L296.4 206.3L297.2 206.6L297.9 206.6L298.7 206.3L299.4 206.3L300.2 206.3L300.9 206.1L301.7 205.8L302.4 205.7L303.2 205.9L303.9 205.9L304.7 205.7L305.4 205.6L306.2 205.8L306.9 205.7L307.7 205.6L308.4 205.7L309.2 205.4L309.9 204.9L310.7 204.6L311.4 204.6L312.2 204.7L312.9 204.6L313.7 204.4L314.4 204.3L315.2 204.0L315.9 203.7L316.7 203.4L317.4 203.2L318.2 203.4L318.9 203.8L319.7 203.8L320.4 203.4L321.2 203.2L321.9 203.1L322.7 202.9L323.4 202.4L324.2 201.9L324.9 201.8L325.7 202.3L326.4 202.5L327.2 202.1L327.9 201.9L328.7 202.0L329.4 202.1L330.2 202.2L330.9 202.5L331.7 202.7L332.4 202.8L333.2 202.8L333.9 203.0L334.7 203.2L335.4 203.2L336.2 202.8L336.9 202.4L337.7 202.6L338.4 202.8L339.2 202.3L339.9 201.7L340.7 201.4L341.4 201.2L342.2 201.0L342.9 200.8L343.7 200.8L344.4 200.4L345.2 200.0L345.9 199.9L346.7 199.4L347.4 198.7L348.2 198.1L348.9 197.6L349.7 196.7L350.4 195.9L351.2 195.5L351.9 195.1L352.7 194.3L353.4 193.5L354.2 192.9L354.9 192.3L355.7 191.9L356.4 191.6L357.2 191.0L357.9 190.1L358.7 189.1L359.4 188.2L360.2 187.2L360.9 186.1L361.7 185.1L362.4 184.6L363.2 184.2L363.9 183.4L364.7 182.4L365.4 181.6L366.2 181.1L366.9 180.9L367.7 180.4L368.4 180.1L369.2 180.1L369.9 180.9L370.7 182.3L371.4 184.0L372.2 185.8L372.9 187.5L373.7 189.4L374.4 191.5L375.2 193.6L375.9 195.3L376.7 196.5L377.4 197.9L378.2 199.2L378.9 200.2L379.7 201.4L380.4 202.4L381.2 202.9L381.9 203.2L382.7 203.8L383.4 204.2L384.2 204.4L384.9 204.8L385.7 205.0L386.4 205.2L387.2 205.4L387.9 205.4L388.7 205.3L389.4 205.4L390.2 205.6L390.9 205.7L391.7 205.5L392.4 205.5L393.2 205.7L393.9 205.7L394.7 205.7L395.4 206.1L396.2 206.3L396.9 206.4L397.7 206.3L398.4 206.1L399.2 206.2L399.9 206.3L400.7 206.4L401.4 206.4L402.2 206.4L402.9 206.4L403.7 206.4L404.4 206.4L405.2 206.6L405.9 207.0L406.7 207.2L407.4 207.1L408.2 206.8L408.9 207.0L409.7 207.3L410.4 207.1L411.2 206.8L411.9 207.1L412.7 207.1L413.4 206.8L414.2 207.0L414.9 207.1L415.7 206.9L416.4 206.8L417.2 206.7L417.9 206.5L418.7 206.6L419.4 206.8L420.2 206.9L420.9 206.9L421.7 206.7L422.4 206.8L423.2 207.0L423.9 206.8L424.7 206.6L425.4 206.6L426.2 206.7L426.9 206.7L427.7 206.8L428.4 206.8L429.2 206.4L429.9 205.9L430.7 206.0L431.4 206.2L432.2 206.3L432.9 206.3L433.7 206.1L434.4 205.9L435.2 205.8L435.9 205.4L436.7 205.2L437.4 205.4L438.2 205.1L438.9 205.0L439.7 205.0L440.4 204.5L441.2 204.1L441.9 203.8L442.7 203.3L443.4 202.7L444.2 202.4L444.9 201.9L445.7 201.0L446.4 199.8L447.2 198.2L447.9 196.3L448.7 194.4L449.4 192.6L450.2 190.8L450.9 188.9L451.7 187.1L452.4 185.3L453.2 183.8L453.9 182.8L454.7 182.1L455.4 182.1L456.2 183.1L456.9 184.4L457.7 185.7L458.4 187.4L459.2 189.3L459.9 191.6L460.7 194.2L461.4 196.3L462.2 198.0L462.9 199.6L463.7 200.8L464.4 201.9L465.2 202.9L465.9 203.6L466.7 204.2L467.4 204.9L468.2 205.2L468.9 205.2L469.7 205.3L470.4 205.6L471.2 205.5L471.9 205.5L472.7 206.0L473.4 206.2L474.2 206.1L474.9 206.1L475.7 206.3L476.4 206.2L477.2 206.1L477.9 206.1L478.7 206.2L479.4 206.4L480.2 206.5L480.9 206.7L481.7 206.8L482.4 206.8L483.2 206.6L483.9 206.5L484.7 206.8L485.4 207.1L486.2 207.2L486.9 207.0L487.7 206.6L488.4 206.9L489.2 207.2L489.9 207.0L490.7 206.9L491.4 206.9L492.2 207.0L492.9 207.1L493.7 207.2L494.4 207.3L495.2 207.2L495.9 207.0L496.7 207.2L497.4 207.2L498.2 207.0L498.9 206.7L499.7 206.7L500.4 207.0L501.2 206.9L501.9 206.5L502.7 206.6L503.4 207.0L504.2 207.3L504.9 207.3L505.7 207.2L506.4 206.9L507.2 206.9L507.9 207.3L508.7 207.4L509.4 207.4L510.2 207.4L510.9 207.2L511.7 207.2L512.5 207.6L513.2 207.8L514.0 207.7L514.7 207.6L515.5 207.4L516.2 207.3L517.0 207.2L517.7 207.1L518.5 207.4L519.2 207.6L520.0 207.5L520.7 207.5L521.5 207.6L522.2 207.2L523.0 207.0L523.7 207.1L524.5 207.3L525.2 207.6L526.0 207.6L526.7 207.3L527.5 207.6L528.2 207.9L529.0 207.6L529.7 207.3L530.5 207.6L531.2 207.7L532.0 207.6L532.7 207.3L533.5 207.3L534.2 207.6L535.0 207.5L535.7 207.4L536.5 207.7L537.2 207.8L538.0 207.6L538.7 207.5" fill="none" stroke="#222222" stroke-width="1.15" stroke-linejoin="round"/>
<path d="M291.2 173.6L291.9 173.5L292.7 173.5L293.4 173.5L294.2 173.5L294.9 173.5L295.7 173.5L296.4 173.5L297.2 173.6L297.9 173.6L298.7 173.5L299.4 173.4L300.2 173.5L300.9 173.5L301.7 173.5L302.4 173.6L303.2 173.7L303.9 173.6L304.7 173.6L305.4 173.7L306.2 173.7L306.9 173.5L307.7 173.4L308.4 173.4L309.2 173.4L309.9 173.4L310.7 173.4L311.4 173.5L312.2 173.4L312.9 173.5L313.7 173.5L314.4 173.5L315.2 173.4L315.9 173.4L316.7 173.4L317.4 173.4L318.2 173.4L318.9 173.3L319.7 173.3L320.4 173.3L321.2 173.3L321.9 173.4L322.7 173.4L323.4 173.3L324.2 173.2L324.9 173.2L325.7 173.3L326.4 173.3L327.2 173.3L327.9 173.3L328.7 173.2L329.4 173.2L330.2 173.0L330.9 172.9L331.7 173.0L332.4 173.1L333.2 173.1L333.9 173.1L334.7 173.1L335.4 173.1L336.2 173.1L336.9 173.0L337.7 172.9L338.4 172.9L339.2 173.0L339.9 173.0L340.7 173.0L341.4 173.0L342.2 173.0L342.9 172.9L343.7 172.8L344.4 172.8L345.2 172.8L345.9 172.7L346.7 172.7L347.4 172.7L348.2 172.7L348.9 172.6L349.7 172.6L350.4 172.7L351.2 172.6L351.9 172.5L352.7 172.4L353.4 172.4L354.2 172.5L354.9 172.4L355.7 172.3L356.4 172.3L357.2 172.1L357.9 172.1L358.7 172.1L359.4 172.2L360.2 172.1L360.9 172.0L361.7 172.0L362.4 171.9L363.2 171.9L363.9 171.9L364.7 171.9L365.4 171.8L366.2 171.9L366.9 171.8L367.7 171.8L368.4 171.7L369.2 171.6L369.9 171.6L370.7 171.6L371.4 171.5L372.2 171.4L372.9 171.3L373.7 171.4L374.4 171.4L375.2 171.2L375.9 171.1L376.7 171.1L377.4 171.1L378.2 171.0L378.9 170.9L379.7 170.7L380.4 170.6L381.2 170.6L381.9 170.6L382.7 170.5L383.4 170.4L384.2 170.5L384.9 170.4L385.7 170.1L386.4 170.0L387.2 170.0L387.9 169.8L388.7 169.6L389.4 169.4L390.2 169.3L390.9 169.2L391.7 169.0L392.4 168.7L393.2 168.3L393.9 168.1L394.7 167.7L395.4 167.4L396.2 166.9L396.9 166.4L397.7 165.8L398.4 165.2L399.2 164.5L399.9 163.7L400.7 162.9L401.4 162.1L402.2 161.5L402.9 161.0L403.7 160.6L404.4 160.2L405.2 159.9L405.9 159.8L406.7 160.2L407.4 160.9L408.2 162.0L408.9 163.2L409.7 164.5L410.4 165.7L411.2 167.0L411.9 168.0L412.7 168.8L413.4 169.5L414.2 170.2L414.9 170.6L415.7 170.9L416.4 171.2L417.2 171.5L417.9 171.6L418.7 171.7L419.4 171.8L420.2 171.8L420.9 171.9L421.7 171.8L422.4 171.6L423.2 171.5L423.9 171.3L424.7 170.9L425.4 170.4L426.2 169.9L426.9 169.3L427.7 168.8L428.4 168.2L429.2 167.4L429.9 166.4L430.7 165.3L431.4 164.1L432.2 162.7L432.9 161.2L433.7 159.4L434.4 157.3L435.2 155.0L435.9 152.8L436.7 150.5L437.4 148.6L438.2 147.1L438.9 146.6L439.7 147.6L440.4 148.9L441.2 150.7L441.9 152.7L442.7 154.8L443.4 157.0L444.2 159.0L444.9 160.9L445.7 162.4L446.4 163.7L447.2 164.9L447.9 165.9L448.7 166.8L449.4 167.5L450.2 168.1L450.9 168.6L451.7 169.2L452.4 169.7L453.2 170.1L453.9 170.4L454.7 170.6L455.4 170.9L456.2 171.0L456.9 171.1L457.7 171.2L458.4 171.2L459.2 171.4L459.9 171.4L460.7 171.3L461.4 171.4L462.2 171.6L462.9 171.6L463.7 171.6L464.4 171.5L465.2 171.6L465.9 171.7L466.7 171.7L467.4 171.7L468.2 171.7L468.9 171.7L469.7 171.6L470.4 171.6L471.2 171.6L471.9 171.6L472.7 171.6L473.4 171.5L474.2 171.5L474.9 171.6L475.7 171.6L476.4 171.5L477.2 171.4L477.9 171.4L478.7 171.4L479.4 171.5L480.2 171.4L480.9 171.4L481.7 171.3L482.4 171.2L483.2 171.3L483.9 171.3L484.7 171.2L485.4 171.1L486.2 171.1L486.9 171.1L487.7 171.0L488.4 170.9L489.2 170.9L489.9 170.9L490.7 171.0L491.4 171.0L492.2 170.9L492.9 170.8L493.7 170.7L494.4 170.6L495.2 170.6L495.9 170.7L496.7 170.7L497.4 170.8L498.2 170.8L498.9 170.8L499.7 170.8L500.4 170.8L501.2 170.8L501.9 170.8L502.7 170.7L503.4 170.7L504.2 170.7L504.9 170.8L505.7 170.8L506.4 170.8L507.2 170.8L507.9 170.9L508.7 170.9L509.4 170.9L510.2 170.9L510.9 171.0L511.7 171.0L512.5 171.0L513.2 171.0L514.0 171.0L514.7 171.1L515.5 171.1L516.2 171.2L517.0 171.2L517.7 171.3L518.5 171.3L519.2 171.2L520.0 171.2L520.7 171.3L521.5 171.4L522.2 171.5L523.0 171.6L523.7 171.6L524.5 171.6L525.2 171.6L526.0 171.7L526.7 171.8L527.5 171.8L528.2 171.8L529.0 171.9L529.7 171.9L530.5 171.9L531.2 172.0L532.0 172.0L532.7 172.0L533.5 172.1L534.2 172.1L535.0 172.1L535.7 172.1L536.5 172.2L537.2 172.0L538.0 172.0L538.7 172.1" fill="none" stroke="#279034" stroke-width="1.15" stroke-linejoin="round"/>
<path d="M291.2 136.1L291.9 135.9L292.7 135.6L293.4 135.5L294.2 135.7L294.9 135.8L295.7 135.5L296.4 135.3L297.2 135.4L297.9 135.8L298.7 135.9L299.4 135.8L300.2 135.6L300.9 135.4L301.7 135.5L302.4 135.6L303.2 135.7L303.9 135.8L304.7 135.5L305.4 135.5L306.2 135.8L306.9 135.7L307.7 135.2L308.4 134.9L309.2 135.3L309.9 135.7L310.7 135.7L311.4 135.3L312.2 135.2L312.9 135.3L313.7 135.3L314.4 135.1L315.2 135.0L315.9 135.0L316.7 135.0L317.4 134.9L318.2 135.0L318.9 135.0L319.7 135.0L320.4 135.2L321.2 135.1L321.9 134.8L322.7 135.0L323.4 135.0L324.2 134.9L324.9 135.0L325.7 135.0L326.4 134.9L327.2 134.6L327.9 134.5L328.7 135.0L329.4 135.2L330.2 134.9L330.9 134.7L331.7 134.3L332.4 134.0L333.2 134.3L333.9 134.4L334.7 134.0L335.4 133.7L336.2 133.7L336.9 134.0L337.7 134.1L338.4 133.8L339.2 133.9L339.9 134.1L340.7 133.8L341.4 133.4L342.2 133.1L342.9 133.2L343.7 133.5L344.4 133.6L345.2 133.7L345.9 133.6L346.7 133.2L347.4 133.0L348.2 133.1L348.9 132.9L349.7 132.4L350.4 131.9L351.2 131.7L351.9 131.2L352.7 130.6L353.4 130.6L354.2 130.9L354.9 130.8L355.7 130.0L356.4 129.7L357.2 129.8L357.9 129.5L358.7 128.8L359.4 128.3L360.2 128.3L360.9 128.3L361.7 127.9L362.4 127.4L363.2 127.3L363.9 127.3L364.7 127.0L365.4 126.8L366.2 126.7L366.9 126.4L367.7 126.3L368.4 126.8L369.2 127.3L369.9 127.4L370.7 127.5L371.4 128.0L372.2 128.7L372.9 129.2L373.7 129.7L374.4 129.9L375.2 130.0L375.9 130.3L376.7 130.5L377.4 130.4L378.2 130.5L378.9 130.6L379.7 130.4L380.4 130.3L381.2 130.4L381.9 130.2L382.7 129.9L383.4 129.7L384.2 129.8L384.9 129.6L385.7 129.5L386.4 129.6L387.2 129.5L387.9 129.4L388.7 129.2L389.4 128.8L390.2 128.5L390.9 128.4L391.7 128.4L392.4 128.2L393.2 127.9L393.9 127.9L394.7 127.6L395.4 127.0L396.2 126.7L396.9 126.7L397.7 126.6L398.4 126.2L399.2 125.6L399.9 125.2L400.7 125.0L401.4 124.7L402.2 124.3L402.9 124.1L403.7 124.3L404.4 124.9L405.2 125.5L405.9 126.3L406.7 127.4L407.4 128.4L408.2 129.2L408.9 129.8L409.7 130.3L410.4 131.0L411.2 131.5L411.9 131.8L412.7 132.2L413.4 132.9L414.2 133.3L414.9 133.4L415.7 133.3L416.4 133.3L417.2 133.5L417.9 133.7L418.7 133.8L419.4 133.6L420.2 133.5L420.9 133.6L421.7 133.6L422.4 133.4L423.2 133.4L423.9 133.6L424.7 133.2L425.4 132.7L426.2 132.3L426.9 131.9L427.7 131.6L428.4 131.6L429.2 131.0L429.9 130.0L430.7 129.6L431.4 129.2L432.2 128.2L432.9 127.3L433.7 126.4L434.4 124.8L435.2 123.1L435.9 120.7L436.7 118.7L437.4 117.5L438.2 116.4L438.9 115.5L439.7 114.6L440.4 113.4L441.2 112.4L441.9 111.9L442.7 111.6L443.4 111.2L444.2 110.5L444.9 110.0L445.7 110.1L446.4 110.6L447.2 110.8L447.9 110.8L448.7 110.9L449.4 111.2L450.2 111.5L450.9 111.9L451.7 112.6L452.4 113.4L453.2 113.8L453.9 114.1L454.7 115.3L455.4 117.1L456.2 118.7L456.9 120.4L457.7 122.3L458.4 123.8L459.2 124.7L459.9 125.7L460.7 126.9L461.4 128.3L462.2 129.2L462.9 129.9L463.7 130.7L464.4 131.5L465.2 132.0L465.9 132.4L466.7 132.9L467.4 132.8L468.2 133.1L468.9 133.8L469.7 133.7L470.4 133.4L471.2 133.6L471.9 133.9L472.7 134.2L473.4 134.4L474.2 134.3L474.9 134.0L475.7 133.9L476.4 134.4L477.2 134.8L477.9 134.8L478.7 134.6L479.4 134.6L480.2 134.5L480.9 134.4L481.7 134.3L482.4 134.5L483.2 134.7L483.9 134.8L484.7 135.1L485.4 135.4L486.2 135.3L486.9 134.9L487.7 134.7L488.4 134.7L489.2 134.8L489.9 135.0L490.7 135.2L491.4 135.3L492.2 135.3L492.9 135.3L493.7 135.2L494.4 135.3L495.2 135.8L495.9 135.7L496.7 135.3L497.4 135.1L498.2 135.3L498.9 135.6L499.7 136.0L500.4 136.1L501.2 136.1L501.9 136.2L502.7 136.2L503.4 136.1L504.2 136.0L504.9 135.7L505.7 135.5L506.4 135.9L507.2 136.2L507.9 136.0L508.7 135.9L509.4 136.2L510.2 136.1L510.9 136.2L511.7 136.5L512.5 136.5L513.2 136.4L514.0 136.3L514.7 136.4L515.5 136.5L516.2 136.7L517.0 136.8L517.7 136.8L518.5 136.7L519.2 136.5L520.0 136.4L520.7 136.6L521.5 136.7L522.2 136.5L523.0 136.4L523.7 136.4L524.5 136.5L525.2 136.7L526.0 136.8L526.7 136.6L527.5 136.8L528.2 137.2L529.0 137.3L529.7 137.2L530.5 137.0L531.2 136.9L532.0 137.0L532.7 137.4L533.5 137.8L534.2 137.8L535.0 137.8L535.7 137.4L536.5 137.0L537.2 137.0L538.0 137.3L538.7 137.5" fill="none" stroke="#ec3434" stroke-width="1.15" stroke-linejoin="round"/>
<path d="M291.2 100.5L291.9 100.1L292.7 100.0L293.4 100.0L294.2 99.7L294.9 99.5L295.7 99.5L296.4 99.6L297.2 99.5L297.9 99.6L298.7 99.5L299.4 99.6L300.2 99.5L300.9 99.0L301.7 98.8L302.4 98.9L303.2 98.7L303.9 98.6L304.7 98.7L305.4 98.6L306.2 98.4L306.9 98.4L307.7 98.8L308.4 98.6L309.2 98.3L309.9 98.6L310.7 98.6L311.4 98.1L312.2 97.9L312.9 98.2L313.7 98.2L314.4 98.3L315.2 98.4L315.9 98.2L316.7 98.2L317.4 98.4L318.2 98.6L318.9 98.8L319.7 98.7L320.4 98.3L321.2 98.3L321.9 98.6L322.7 98.4L323.4 98.0L324.2 97.9L324.9 97.9L325.7 97.8L326.4 97.6L327.2 97.5L327.9 97.6L328.7 97.6L329.4 97.3L330.2 97.3L330.9 97.4L331.7 97.2L332.4 97.1L333.2 97.0L333.9 97.1L334.7 97.3L335.4 97.2L336.2 97.4L336.9 97.3L337.7 96.9L338.4 96.8L339.2 96.7L339.9 96.5L340.7 96.5L341.4 96.6L342.2 96.7L342.9 96.4L343.7 95.9L344.4 95.8L345.2 95.9L345.9 95.5L346.7 95.0L347.4 95.1L348.2 95.1L348.9 94.8L349.7 94.2L350.4 93.7L351.2 93.7L351.9 93.6L352.7 92.8L353.4 92.1L354.2 91.7L354.9 91.0L355.7 90.2L356.4 89.5L357.2 88.7L357.9 88.1L358.7 87.6L359.4 87.0L360.2 86.5L360.9 85.7L361.7 84.9L362.4 84.6L363.2 84.4L363.9 83.9L364.7 83.4L365.4 83.0L366.2 82.8L366.9 82.8L367.7 82.6L368.4 82.4L369.2 83.0L369.9 84.0L370.7 85.0L371.4 85.6L372.2 86.0L372.9 86.7L373.7 87.7L374.4 89.1L375.2 90.4L375.9 91.3L376.7 92.4L377.4 93.4L378.2 94.0L378.9 94.7L379.7 95.2L380.4 95.5L381.2 95.8L381.9 95.9L382.7 95.9L383.4 96.2L384.2 96.2L384.9 95.9L385.7 95.9L386.4 95.6L387.2 95.2L387.9 95.0L388.7 94.8L389.4 94.7L390.2 94.7L390.9 94.5L391.7 94.5L392.4 94.7L393.2 94.7L393.9 94.8L394.7 94.9L395.4 94.5L396.2 94.1L396.9 94.0L397.7 94.1L398.4 94.0L399.2 92.9L399.9 91.5L400.7 90.5L401.4 89.5L402.2 88.8L402.9 88.1L403.7 87.6L404.4 87.7L405.2 87.9L405.9 88.0L406.7 88.2L407.4 88.8L408.2 89.7L408.9 90.6L409.7 91.6L410.4 92.7L411.2 93.9L411.9 95.0L412.7 95.4L413.4 95.8L414.2 96.5L414.9 97.0L415.7 97.5L416.4 98.1L417.2 98.5L417.9 98.5L418.7 98.6L419.4 98.8L420.2 98.8L420.9 98.7L421.7 98.4L422.4 98.2L423.2 98.0L423.9 97.7L424.7 97.1L425.4 96.8L426.2 96.7L426.9 96.4L427.7 95.9L428.4 95.3L429.2 94.5L429.9 93.7L430.7 92.6L431.4 91.1L432.2 89.7L432.9 88.2L433.7 86.0L434.4 83.6L435.2 81.9L435.9 80.0L436.7 77.9L437.4 76.6L438.2 75.5L438.9 75.6L439.7 76.4L440.4 77.4L441.2 78.8L441.9 80.2L442.7 81.5L443.4 82.8L444.2 84.1L444.9 85.4L445.7 86.1L446.4 86.5L447.2 86.9L447.9 86.7L448.7 86.2L449.4 85.6L450.2 84.9L450.9 83.9L451.7 83.2L452.4 83.1L453.2 82.8L453.9 82.3L454.7 82.2L455.4 82.4L456.2 83.1L456.9 83.6L457.7 84.2L458.4 85.3L459.2 86.6L459.9 88.3L460.7 90.3L461.4 92.4L462.2 93.7L462.9 94.5L463.7 95.2L464.4 96.1L465.2 96.8L465.9 97.3L466.7 97.8L467.4 98.1L468.2 98.3L468.9 98.3L469.7 98.3L470.4 98.5L471.2 98.4L471.9 98.7L472.7 99.0L473.4 98.8L474.2 98.7L474.9 99.1L475.7 99.4L476.4 99.3L477.2 99.2L477.9 99.2L478.7 99.1L479.4 99.2L480.2 99.5L480.9 99.4L481.7 99.2L482.4 99.5L483.2 100.0L483.9 99.9L484.7 99.6L485.4 99.6L486.2 99.8L486.9 99.7L487.7 99.5L488.4 99.7L489.2 99.7L489.9 99.5L490.7 99.6L491.4 100.0L492.2 100.2L492.9 100.0L493.7 99.8L494.4 99.7L495.2 99.9L495.9 99.8L496.7 99.5L497.4 99.6L498.2 99.7L498.9 99.5L499.7 99.6L500.4 99.7L501.2 99.5L501.9 99.6L502.7 99.9L503.4 99.9L504.2 99.8L504.9 100.0L505.7 100.2L506.4 100.3L507.2 100.3L507.9 100.1L508.7 99.8L509.4 99.4L510.2 99.3L510.9 99.5L511.7 99.8L512.5 99.9L513.2 99.6L514.0 99.6L514.7 99.5L515.5 99.7L516.2 100.1L517.0 100.3L517.7 100.5L518.5 100.3L519.2 99.8L520.0 99.8L520.7 100.2L521.5 100.1L522.2 99.9L523.0 100.1L523.7 100.1L524.5 99.9L525.2 100.0L526.0 100.1L526.7 100.2L527.5 100.3L528.2 100.1L529.0 100.1L529.7 100.3L530.5 100.4L531.2 100.4L532.0 100.2L532.7 100.0L533.5 100.1L534.2 100.3L535.0 100.1L535.7 100.1L536.5 100.1L537.2 100.3L538.0 100.3L538.7 100.0" fill="none" stroke="#3a3ae6" stroke-width="1.15" stroke-linejoin="round"/>
<path d="M291.2 66.5L291.9 66.5L292.7 66.8L293.4 66.6L294.2 66.2L294.9 66.5L295.7 67.0L296.4 67.3L297.2 67.0L297.9 66.6L298.7 66.7L299.4 66.9L300.2 66.6L300.9 66.4L301.7 66.3L302.4 66.4L303.2 66.8L303.9 66.9L304.7 66.8L305.4 66.8L306.2 67.0L306.9 67.0L307.7 66.7L308.4 66.3L309.2 66.4L309.9 66.6L310.7 66.3L311.4 66.1L312.2 66.3L312.9 66.5L313.7 66.7L314.4 66.6L315.2 66.3L315.9 66.1L316.7 66.1L317.4 66.1L318.2 66.2L318.9 66.4L319.7 66.2L320.4 65.8L321.2 66.0L321.9 66.3L322.7 66.2L323.4 66.3L324.2 66.4L324.9 66.1L325.7 65.9L326.4 66.0L327.2 65.9L327.9 66.0L328.7 66.0L329.4 65.9L330.2 65.8L330.9 65.7L331.7 65.6L332.4 65.7L333.2 65.5L333.9 65.3L334.7 65.5L335.4 65.6L336.2 65.3L336.9 65.2L337.7 65.6L338.4 65.8L339.2 65.7L339.9 65.4L340.7 65.1L341.4 65.1L342.2 65.3L342.9 65.5L343.7 65.3L344.4 65.0L345.2 64.6L345.9 64.4L346.7 64.7L347.4 64.9L348.2 64.9L348.9 64.5L349.7 64.3L350.4 64.4L351.2 64.5L351.9 64.7L352.7 64.8L353.4 64.5L354.2 64.1L354.9 63.9L355.7 64.1L356.4 64.0L357.2 63.6L357.9 63.3L358.7 63.0L359.4 62.8L360.2 62.8L360.9 62.8L361.7 62.9L362.4 63.0L363.2 62.7L363.9 62.4L364.7 62.4L365.4 62.4L366.2 62.2L366.9 61.8L367.7 61.3L368.4 61.3L369.2 61.5L369.9 61.8L370.7 62.4L371.4 62.4L372.2 61.8L372.9 61.9L373.7 62.6L374.4 63.2L375.2 63.4L375.9 63.2L376.7 63.1L377.4 63.0L378.2 63.0L378.9 63.4L379.7 64.0L380.4 64.1L381.2 63.8L381.9 64.0L382.7 64.3L383.4 64.0L384.2 63.8L384.9 63.8L385.7 63.8L386.4 63.5L387.2 63.3L387.9 63.2L388.7 63.1L389.4 63.1L390.2 63.2L390.9 63.2L391.7 63.1L392.4 63.1L393.2 62.8L393.9 62.4L394.7 61.8L395.4 61.5L396.2 61.3L396.9 60.5L397.7 59.6L398.4 59.2L399.2 58.9L399.9 58.4L400.7 57.8L401.4 56.8L402.2 56.1L402.9 56.4L403.7 57.0L404.4 57.6L405.2 58.3L405.9 59.2L406.7 60.0L407.4 60.3L408.2 60.6L408.9 61.3L409.7 61.9L410.4 62.4L411.2 63.1L411.9 63.6L412.7 64.1L413.4 64.5L414.2 64.8L414.9 65.2L415.7 65.1L416.4 65.2L417.2 65.6L417.9 65.9L418.7 65.7L419.4 65.6L420.2 65.8L420.9 66.0L421.7 66.0L422.4 65.6L423.2 65.3L423.9 64.9L424.7 64.7L425.4 64.8L426.2 64.7L426.9 64.0L427.7 63.4L428.4 63.0L429.2 62.7L429.9 62.0L430.7 61.1L431.4 60.1L432.2 59.0L432.9 57.5L433.7 55.9L434.4 54.6L435.2 52.9L435.9 50.8L436.7 49.0L437.4 46.9L438.2 44.6L438.9 42.7L439.7 41.1L440.4 40.2L441.2 39.8L441.9 39.9L442.7 40.6L443.4 41.5L444.2 42.2L444.9 42.9L445.7 43.9L446.4 45.2L447.2 46.5L447.9 47.2L448.7 47.3L449.4 47.3L450.2 47.3L450.9 47.0L451.7 46.6L452.4 46.3L453.2 46.2L453.9 46.1L454.7 46.3L455.4 47.2L456.2 48.2L456.9 49.3L457.7 50.8L458.4 52.6L459.2 54.7L459.9 56.6L460.7 58.0L461.4 59.0L462.2 60.0L462.9 61.1L463.7 61.7L464.4 61.8L465.2 62.5L465.9 62.9L466.7 63.0L467.4 63.6L468.2 64.1L468.9 64.1L469.7 64.3L470.4 64.7L471.2 64.7L471.9 64.7L472.7 65.0L473.4 65.1L474.2 65.2L474.9 65.0L475.7 64.8L476.4 65.1L477.2 65.2L477.9 65.2L478.7 65.3L479.4 65.2L480.2 65.3L480.9 65.4L481.7 65.4L482.4 65.3L483.2 64.9L483.9 64.8L484.7 65.1L485.4 65.8L486.2 66.3L486.9 65.9L487.7 65.5L488.4 65.6L489.2 65.9L489.9 65.7L490.7 65.6L491.4 65.7L492.2 65.9L492.9 65.7L493.7 65.2L494.4 65.3L495.2 65.5L495.9 65.5L496.7 65.7L497.4 65.9L498.2 65.9L498.9 66.0L499.7 66.0L500.4 66.0L501.2 65.9L501.9 66.2L502.7 66.7L503.4 66.6L504.2 66.3L504.9 66.1L505.7 66.0L506.4 66.0L507.2 66.2L507.9 66.2L508.7 65.8L509.4 65.5L510.2 65.9L510.9 66.6L511.7 67.0L512.5 66.7L513.2 66.2L514.0 66.1L514.7 66.1L515.5 66.2L516.2 66.1L517.0 66.1L517.7 66.5L518.5 66.6L519.2 66.6L520.0 66.9L520.7 67.1L521.5 66.9L522.2 66.7L523.0 66.7L523.7 66.6L524.5 66.7L525.2 66.7L526.0 66.6L526.7 67.0L527.5 67.2L528.2 67.1L529.0 67.2L529.7 67.1L530.5 66.9L531.2 67.1L532.0 66.9L532.7 66.7L533.5 66.8L534.2 67.1L535.0 67.3L535.7 67.4L536.5 67.6L537.2 67.5L538.0 67.2L538.7 67.2" fill="none" stroke="#ee38d4" stroke-width="1.15" stroke-linejoin="round"/>
<rect x="290.70" y="19.10" width="248.40" height="201.10" fill="none" stroke="#2a2a2a" stroke-width="1.05"/>
<path d="M290.70 220.20V216.20M304.50 220.20V217.90M318.30 220.20V216.20M332.10 220.20V217.90M345.90 220.20V216.20M359.70 220.20V217.90M373.50 220.20V216.20M387.30 220.20V217.90M401.10 220.20V216.20M414.90 220.20V217.90M428.70 220.20V216.20M442.50 220.20V217.90M456.30 220.20V216.20M470.10 220.20V217.90M483.90 220.20V216.20M497.70 220.20V217.90M511.50 220.20V216.20M525.30 220.20V217.90M539.10 220.20V216.20" stroke="#2a2a2a" stroke-width="0.9" fill="none"/>
<text x="290.70" y="233.10" font-family="Liberation Serif, serif" font-size="9.60" font-weight="bold" font-style="normal" text-anchor="middle" fill="#000" >300</text>
<text x="318.30" y="233.10" font-family="Liberation Serif, serif" font-size="9.60" font-weight="bold" font-style="normal" text-anchor="middle" fill="#000" >320</text>
<text x="345.90" y="233.10" font-family="Liberation Serif, serif" font-size="9.60" font-weight="bold" font-style="normal" text-anchor="middle" fill="#000" >340</text>
<text x="373.50" y="233.10" font-family="Liberation Serif, serif" font-size="9.60" font-weight="bold" font-style="normal" text-anchor="middle" fill="#000" >360</text>
<text x="401.10" y="233.10" font-family="Liberation Serif, serif" font-size="9.60" font-weight="bold" font-style="normal" text-anchor="middle" fill="#000" >380</text>
<text x="428.70" y="233.10" font-family="Liberation Serif, serif" font-size="9.60" font-weight="bold" font-style="normal" text-anchor="middle" fill="#000" >400</text>
<text x="456.30" y="233.10" font-family="Liberation Serif, serif" font-size="9.60" font-weight="bold" font-style="normal" text-anchor="middle" fill="#000" >420</text>
<text x="483.90" y="233.10" font-family="Liberation Serif, serif" font-size="9.60" font-weight="bold" font-style="normal" text-anchor="middle" fill="#000" >440</text>
<text x="511.50" y="233.10" font-family="Liberation Serif, serif" font-size="9.60" font-weight="bold" font-style="normal" text-anchor="middle" fill="#000" >460</text>
<text x="539.10" y="233.10" font-family="Liberation Serif, serif" font-size="9.60" font-weight="bold" font-style="normal" text-anchor="middle" fill="#000" >480</text>
<text x="414.90" y="254.80" font-family="Liberation Serif, serif" font-size="14.00" font-weight="bold" font-style="normal" text-anchor="middle" fill="#000" >Raman shift (cm<tspan font-size="8.8" dy="-5.2">-1</tspan><tspan dy="5.2">)</tspan></text>
<text transform="translate(282.5,118.3) rotate(-90)" font-family="Liberation Serif, serif" font-size="14.1" font-weight="bold" text-anchor="middle">Intensity (arb. unit)</text>
<text x="297.80" y="31.60" font-family="Liberation Serif, serif" font-size="8.50" font-weight="bold" font-style="normal" text-anchor="start" fill="#000" textLength="19.6" lengthAdjust="spacingAndGlyphs">WS<tspan font-size="5.61" dy="2.29">2</tspan><tspan dy="-2.29">​</tspan>:</text>
<path d="M324.8 25.2L328.7 29.1L324.8 33.0L320.9 29.1Z" fill="url(#dia)"/>
<text x="330.10" y="31.60" font-family="Liberation Serif, serif" font-size="8.50" font-weight="bold" font-style="normal" text-anchor="start" fill="#000" textLength="29.1" lengthAdjust="spacingAndGlyphs">, MoS<tspan font-size="5.61" dy="2.29">2</tspan><tspan dy="-2.29">​</tspan>:</text>
<circle cx="365.9" cy="29.1" r="3.8" fill="#1414f0"/>
<text x="514.00" y="59.50" font-family="Liberation Serif, serif" font-size="8.80" font-weight="bold" font-style="normal" text-anchor="middle" fill="#000" >Type III</text>
<text x="513.60" y="94.40" font-family="Liberation Serif, serif" font-size="8.80" font-weight="bold" font-style="normal" text-anchor="middle" fill="#000" >Type II</text>
<text x="514.20" y="130.30" font-family="Liberation Serif, serif" font-size="8.80" font-weight="bold" font-style="normal" text-anchor="middle" fill="#000" >Type I</text>
<text x="514.00" y="165.80" font-family="Liberation Serif, serif" font-size="9.20" font-weight="bold" font-style="normal" text-anchor="middle" fill="#000" >Ref. MoS<tspan font-size="5.70" dy="1.84">2</tspan><tspan dy="-1.84">​</tspan></text>
<text x="514.60" y="201.90" font-family="Liberation Serif, serif" font-size="9.20" font-weight="bold" font-style="normal" text-anchor="middle" fill="#000" >Ref. WS<tspan font-size="5.70" dy="1.84">2</tspan><tspan dy="-1.84">​</tspan></text>
<text x="398.40" y="153.40" font-family="Liberation Serif, serif" font-size="10.20" font-weight="bold" font-style="italic" text-anchor="start" fill="#3c5a1e" ><tspan>E</tspan><tspan font-size="7.1" dy="2.2">2g</tspan></text>
<text x="432.80" y="141.80" font-family="Liberation Serif, serif" font-size="10.20" font-weight="bold" font-style="italic" text-anchor="start" fill="#3c5a1e" ><tspan>A</tspan><tspan font-size="7.1" dy="2.2">1g</tspan></text>
<text x="361.20" y="197.90" font-family="Liberation Serif, serif" font-size="10.20" font-weight="bold" font-style="italic" text-anchor="start" fill="#111" ><tspan>E</tspan><tspan font-size="7.1" dy="2.2">2g</tspan></text>
<text x="449.20" y="203.50" font-family="Liberation Serif, serif" font-size="10.20" font-weight="bold" font-style="italic" text-anchor="start" fill="#111" ><tspan>A</tspan><tspan font-size="7.1" dy="2.2">1g</tspan></text>
</svg></body></html>
